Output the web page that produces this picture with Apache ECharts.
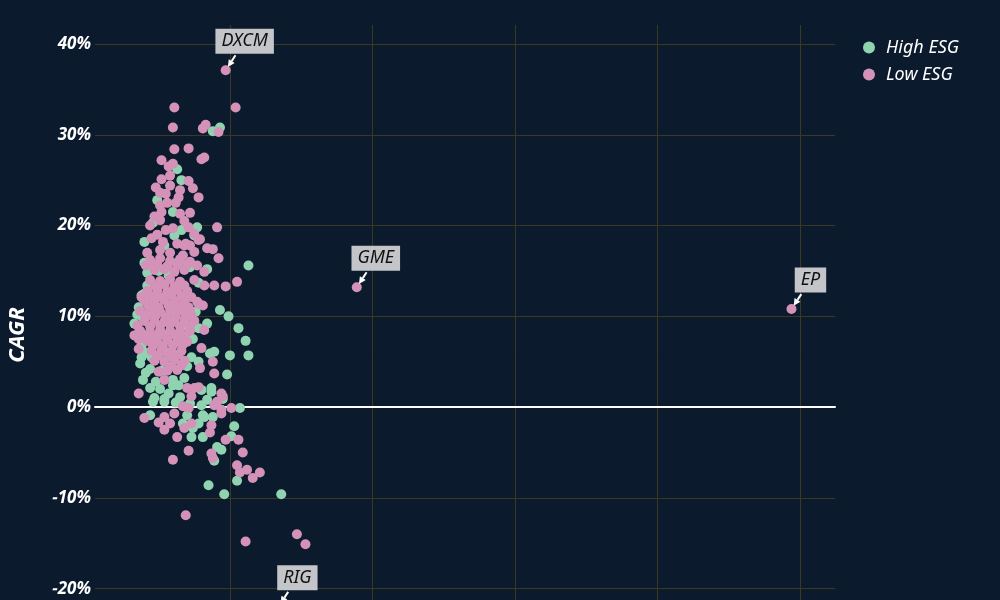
<!DOCTYPE html>
<html>
<head>
<meta charset="utf-8">
<script src="https://cdn.jsdelivr.net/npm/echarts@6/dist/echarts.min.js"></script>
<style>
html,body{margin:0;padding:0;background:#0b1a2c;overflow:hidden;}
#chart{width:1000px;height:680px;}
</style>
</head>
<body>
<div id="chart"></div>
<script>
// x: risk measure (gridlines at 1..5), y: CAGR in percent
const seriesNames = ['High ESG', 'Low ESG'];
const yTicks = [-20, -10, 0, 10, 20, 30, 40];

const highESG = [
  [0.93,30.8],[0.88,30.4],[0.63,26.2],[0.66,25.0],[0.60,21.5],[0.46,20.3],[0.61,18.9],[0.77,19.8],
  [0.75,18.9],[0.40,18.2],[1.13,15.6],[0.40,15.9],[0.72,15.4],[0.84,15.2],[0.42,14.8],
  [0.54,17.8],[0.66,19.5],[0.49,22.8],
  [0.78,13.7],[0.42,13.4],[0.38,12.3],[0.93,10.7],[0.99,10.0],[1.06,8.7],[1.11,7.3],[1.13,5.7],
  [1.00,5.7],[0.84,9.2],[0.78,8.7],[0.89,6.1],[0.86,5.9],[0.98,3.6],[0.78,5.0],[0.33,9.2],
  [0.38,6.8],[0.37,4.8],[0.38,5.5],[0.39,3.0],[0.44,2.1],[0.47,1.0],[0.54,0.9],[0.64,2.4],[0.68,3.2],
  [0.72,0.4],[0.80,1.9],[0.84,0.8],[0.87,1.7],[0.95,0.9],[0.65,1.1],[0.60,2.4],[0.87,2.1],
  [0.46,0.6],[0.54,0.6],[0.80,0.2],[1.07,-0.1],[0.44,-0.9],[0.70,-0.9],[0.67,-1.8],[0.81,-0.9],
  [0.88,-1.1],[0.74,-2.3],[0.73,-3.3],[0.81,-3.3],[1.03,-2.1],[1.01,-3.2],[0.91,-4.4],[0.94,-4.7],
  [0.89,-5.9],[1.05,-8.1],[0.85,-8.6],[0.96,-9.6],[1.36,-9.6],[0.78,-1.8],[0.82,-1.1],
  [0.50,8.0],[0.44,10.5],[0.56,6.0],[0.47,12.0],[0.62,11.0],[0.52,4.0],[0.66,7.0],[0.43,7.5],
  [0.57,14.5],[0.70,12.5],[0.50,15.0],[0.36,11.0],[0.45,5.5],[0.60,3.0],[0.73,5.5],[0.55,9.8],
  [0.64,16.0],[0.69,9.0],[0.41,3.8],[0.48,2.8],
  [0.35,8.0],[0.38,10.0],[0.41,6.0],[0.44,4.2],[0.51,2.0],[0.57,1.5],[0.62,0.5],[0.70,4.5],
  [0.74,7.5],[0.76,10.5],[0.40,12.5],[0.35,10.2]
];

const lowESG = [
  [0.61,33.0],[1.04,33.0],[0.60,30.8],[0.81,30.7],[0.83,31.1],[0.92,30.3],[0.61,28.4],[0.71,28.5],
  [0.80,27.3],[0.82,27.5],[0.52,27.2],[0.57,26.5],[0.52,25.1],[0.71,24.9],[0.48,24.2],[0.58,24.4],
  [0.74,24.1],[0.51,23.6],[0.65,23.9],[0.64,23.1],[0.78,23.1],[0.51,22.2],[0.56,22.5],[0.52,21.5],
  [0.65,21.3],[0.72,21.4],[0.91,19.8],[0.51,20.6],[0.55,19.5],[0.60,19.7],[0.71,19.8],[0.75,19.1],
  [0.79,18.5],[0.45,18.6],[0.53,18.2],[0.69,18.0],[0.78,18.4],[0.68,17.8],[0.42,17.0],[0.51,17.3],
  [0.58,17.0],[0.67,16.7],[0.75,17.1],[0.84,17.5],[0.88,17.4],[0.92,16.4],[0.46,15.6],[0.77,15.6],
  [0.82,14.9],
  [0.47,21.0],[0.55,23.5],[0.62,22.5],[0.68,20.5],[0.58,25.5],[0.49,19.0],[0.63,18.0],[0.72,17.8],
  [0.44,20.0],[0.60,26.8],
  [1.05,13.8],[0.97,13.3],[0.89,13.4],[0.82,13.4],[0.38,12.1],[0.81,11.2],[0.77,11.6],[0.73,10.1],
  [0.78,11.4],[0.82,8.5],[0.80,6.5],[0.88,5.0],[0.79,4.3],[0.89,3.7],[0.33,7.9],[0.36,6.4],[0.36,7.5],
  [0.36,1.5],[0.50,3.9],[0.54,3.0],[0.70,2.1],[0.73,1.2],[0.75,2.1],[0.78,2.2],[0.94,1.5],[0.95,1.2],[0.91,0.6],
  [0.44,16.2],[0.51,16.4],[0.58,16.1],[0.65,16.3],[0.72,16.0],
  [0.41,15.6],[0.49,15.7],[0.56,15.5],[0.63,15.6],[0.70,15.7],
  [0.47,15.1],[0.54,15.2],[0.61,14.9],[0.68,15.1],
  [0.44,14.0],[0.51,13.9],[0.58,14.1],[0.65,13.8],[0.75,14.0],
  [0.47,13.4],[0.54,13.5],[0.61,13.3],[0.68,13.4],
  [0.42,12.8],[0.49,12.9],[0.56,12.7],[0.63,12.9],[0.70,12.8],
  [0.45,12.2],[0.52,12.1],[0.59,12.3],[0.66,12.2],[0.73,12.1],
  [0.40,11.7],[0.47,11.6],[0.54,11.8],[0.61,11.7],[0.68,11.6],
  [0.43,11.1],[0.50,11.0],[0.57,11.2],[0.64,11.1],[0.71,11.0],
  [0.37,10.6],[0.44,10.7],[0.51,10.5],[0.58,10.6],[0.65,10.7],[0.72,10.6],
  [0.41,10.0],[0.48,10.1],[0.55,9.9],[0.62,10.0],[0.69,10.1],
  [0.40,9.5],[0.47,9.6],[0.54,9.4],[0.61,9.5],[0.68,9.6],[0.75,9.5],
  [0.35,9.0],[0.44,8.9],[0.51,9.0],[0.58,9.1],[0.65,8.9],[0.72,9.0],
  [0.37,8.4],[0.44,8.3],[0.51,8.5],[0.58,8.4],[0.65,8.3],[0.72,8.4],
  [0.40,7.9],[0.47,7.8],[0.54,7.9],[0.61,8.0],[0.68,7.8],
  [0.42,7.3],[0.49,7.2],[0.56,7.4],[0.63,7.3],[0.70,7.2],
  [0.46,6.8],[0.53,6.7],[0.60,6.8],[0.67,6.9],
  [0.45,6.2],[0.52,6.3],[0.59,6.1],[0.66,6.2],
  [0.50,5.7],[0.57,5.6],[0.64,5.8],
  [0.47,5.1],[0.54,5.0],[0.61,5.2],[0.68,5.1],
  [0.59,4.5],[0.66,4.6],
  [0.56,4.0],[0.63,4.1],
  [0.67,0.1],[0.71,-0.1],[0.89,0.2],[0.94,-0.3],[1.01,-0.1],[0.40,-1.2],[0.50,-1.7],[0.54,-1.1],
  [0.58,-1.8],[0.61,-0.7],[0.73,-1.8],[0.94,-0.7],[0.54,-2.5],[0.68,-2.3],[0.63,-3.3],[0.87,-2.0],
  [0.86,-2.8],[0.97,-3.6],[1.06,-3.6],[0.87,-5.1],[0.88,-5.6],[1.09,-5.0],[0.71,-4.8],[0.60,-5.8],
  [1.05,-6.4],[1.07,-7.2],[1.12,-6.9],[1.16,-7.8],[1.21,-7.2],
  [0.69,-11.9],[1.11,-14.8],[1.47,-14.0],[1.53,-15.1]
];

const annotations = [
  {name: 'DXCM', value: [0.97, 37.1]},
  {name: 'GME',  value: [1.89, 13.2]},
  {name: 'EP',   value: [4.94, 10.8]},
  {name: 'RIG',  value: [1.34, -22.0]}
];

const FONT = 'Noto Sans';
const labelOffset = [19, -29];

const lowData = lowESG.map(v => ({value: v})).concat(annotations.map(a => ({
  value: a.value,
  label: {
    show: true,
    formatter: a.name,
    position: 'inside',
    offset: labelOffset,
    color: '#111',
    fontFamily: FONT,
    fontStyle: 'italic',
    fontSize: 18,
    backgroundColor: 'rgba(205,207,210,0.95)',
    padding: [4, 6, 3, 6]
  }
})));

const chart = echarts.init(document.getElementById('chart'), null, {renderer: 'canvas'});
const option = {
  backgroundColor: '#0b1a2c',
  animation: false,
  textStyle: {fontFamily: FONT},
  grid: {left: 95, width: 740, top: 25, height: 654.5, containLabel: false},
  legend: {
    data: seriesNames,
    orient: 'vertical',
    left: 858,
    top: 32,
    icon: 'circle',
    itemWidth: 24,
    itemHeight: 12,
    itemGap: 6,
    symbolKeepAspect: true,
    textStyle: {color: '#fff', fontSize: 18, fontStyle: 'italic', fontFamily: FONT, lineHeight: 21}
  },
  xAxis: {
    type: 'value',
    min: 0.0533,
    max: 5.2454,
    splitNumber: 5,
    axisLine: {show: true, onZero: true, lineStyle: {color: '#ffffff', width: 2}},
    axisTick: {show: false},
    axisLabel: {show: false},
    splitLine: {show: true, showMinLine: false, showMaxLine: false, lineStyle: {color: '#3b3920', width: 1}}
  },
  yAxis: {
    type: 'value',
    min: -30,
    max: 42.09,
    interval: 10,
    axisLine: {show: false},
    axisTick: {show: false},
    axisLabel: {
      color: '#fff',
      fontSize: 17,
      fontStyle: 'italic',
      fontWeight: 'bold',
      fontFamily: FONT,
      margin: 4,
      formatter: v => (yTicks.indexOf(Math.round(v)) >= 0 && Math.abs(v - Math.round(v)) < 1e-6)
        ? (v < 0 ? '\u2212' + Math.abs(v) : String(v)) + '%' : ''
    },
    splitLine: {show: true, showMinLine: false, showMaxLine: false, lineStyle: {color: '#3b3920', width: 1}}
  },
  series: [
    {
      name: seriesNames[0],
      type: 'scatter',
      symbolSize: 10,
      itemStyle: {color: '#8fd3b1', opacity: 1},
      data: highESG,
      z: 2
    },
    {
      name: seriesNames[1],
      type: 'scatter',
      symbolSize: 10,
      itemStyle: {color: '#d592b9', opacity: 1},
      data: lowData,
      z: 3
    }
  ]
};
chart.setOption(option);

// annotation arrows, positioned through the chart's own coordinate conversion
const graphics = [];
annotations.forEach(a => {
  const p = chart.convertToPixel({gridIndex: 0}, a.value);
  const dx = -labelOffset[0], dy = -labelOffset[1];
  const len = Math.sqrt(dx * dx + dy * dy);
  const ux = dx / len, uy = dy / len;
  const cx = p[0] + labelOffset[0], cy = p[1] + labelOffset[1];
  const t = 14 / dy;
  const sx = cx + dx * t, sy = cy + dy * t;
  const ex = p[0] - ux * 4, ey = p[1] - uy * 4;
  const hx = ex - ux * 7, hy = ey - uy * 7;
  const px = -uy, py = ux;
  graphics.push({
    type: 'line', silent: true, z: 10,
    shape: {x1: sx, y1: sy, x2: hx, y2: hy},
    style: {stroke: '#ffffff', lineWidth: 2}
  });
  graphics.push({
    type: 'polygon', silent: true, z: 10,
    shape: {points: [[ex, ey], [hx + px * 3.5, hy + py * 3.5], [hx - px * 3.5, hy - py * 3.5]]},
    style: {fill: '#ffffff'}
  });
});
graphics.push({
  type: 'text',
  rotation: Math.PI / 2,
  x: 18, y: 335,
  style: {text: 'CAGR', fill: '#fff', font: 'italic bold 22px "Noto Sans"', align: 'center', verticalAlign: 'middle'}
});
chart.setOption({graphic: graphics});
</script>
</body>
</html>
